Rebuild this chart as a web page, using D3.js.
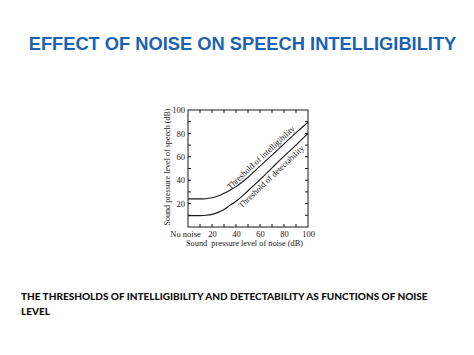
<!DOCTYPE html>
<html>
<head>
<meta charset="utf-8">
<script src="https://cdn.jsdelivr.net/npm/d3@7"></script>
<style>
  body { margin: 0; background: #fff; }
  svg { display: block; }
</style>
</head>
<body>
<svg id="chart" width="474" height="355"></svg>
<script>
// values (noise level in dB -> speech level in dB)
const noiseLevels = [0, 10, 15, 20, 25, 30, 35, 40, 50, 60, 70, 80, 90, 100];
const intelligibility = [24, 24, 24.2, 25, 26.5, 28.8, 31.5, 34.5, 42.5, 52, 61.5, 71, 80.5, 89.5];
const detectability = [9.7, 9.7, 10, 10.8, 12.5, 15, 18.5, 22, 31, 40.5, 50.5, 60.5, 70, 80];
const xTickValues = [0, 20, 40, 60, 80, 100];
const xTickLabels = ["No noise", "20", "40", "60", "80", "100"];
const yTickValues = [20, 40, 60, 80, 100];
const minorTicks = d3.range(0, 101, 10);

const title = "EFFECT OF NOISE ON SPEECH INTELLIGIBILITY";
const caption = ["THE THRESHOLDS OF INTELLIGIBILITY AND DETECTABILITY AS FUNCTIONS OF NOISE", "LEVEL"];

const svg = d3.select("#chart");
const serif = "'Liberation Serif', 'Times New Roman', serif";
const ink = "#1a1a1a";

// plot box
const x = d3.scaleLinear().domain([0, 100]).range([188, 308]);
const y = d3.scaleLinear().domain([0, 100]).range([227, 110]);

// title
svg.append("text")
    .attr("x", 242.5)
    .attr("y", 49.5)
    .attr("text-anchor", "middle")
    .attr("font-family", "'Liberation Sans', Arial, sans-serif")
    .attr("font-weight", "bold")
    .attr("font-size", 18.3)
    .attr("fill", "#1b63b1")
    .text(title);

// caption, sized to the width it has in the picture
const cap = svg.append("g")
    .attr("font-family", "Lato, 'Open Sans', sans-serif")
    .attr("font-weight", 900)
    .attr("fill", "#111");
const capLines = cap.selectAll("text")
    .data(caption)
    .enter()
    .append("text")
    .attr("x", 21)
    .attr("y", (d, i) => 300 + i * 14.5)
    .attr("font-size", 11)
    .text(d => d);
const w0 = capLines.node().getComputedTextLength();
capLines.attr("font-size", 11 * 407 / w0);

const plot = svg.append("g").attr("font-family", serif).attr("fill", ink);

// frame
plot.append("rect")
    .attr("x", x(0)).attr("y", y(100))
    .attr("width", x(100) - x(0)).attr("height", y(0) - y(100))
    .attr("fill", "none").attr("stroke", ink).attr("stroke-width", 1);

// inward minor ticks on all four sides
const tickLen = 3;
const inner = minorTicks.slice(1, -1);
const tickSides = [
    d => [x(d), y(0), x(d), y(0) - tickLen],
    d => [x(d), y(100), x(d), y(100) + tickLen],
    d => [x(0), y(d), x(0) + tickLen, y(d)],
    d => [x(100), y(d), x(100) - tickLen, y(d)]
];
tickSides.forEach(f => {
    plot.append("g").selectAll("line")
        .data(inner)
        .enter().append("line")
        .attr("x1", d => f(d)[0]).attr("y1", d => f(d)[1])
        .attr("x2", d => f(d)[2]).attr("y2", d => f(d)[3])
        .attr("stroke", ink);
});

// axes labels via d3 axes (tick lines hidden, the frame carries them)
const xAxis = plot.append("g")
    .attr("transform", `translate(0,${y(0)})`)
    .call(d3.axisBottom(x).tickValues(xTickValues)
        .tickFormat((d, i) => xTickLabels[i]).tickSize(0).tickPadding(4));
xAxis.select(".domain").remove();
xAxis.selectAll("text")
    .attr("font-family", serif).attr("font-size", 8.5).attr("fill", ink)
    .attr("dx", (d, i) => i === 0 ? -3 : 0);

const yAxis = plot.append("g")
    .attr("transform", `translate(${x(0)},0)`)
    .call(d3.axisLeft(y).tickValues(yTickValues).tickSize(0).tickPadding(3));
yAxis.select(".domain").remove();
yAxis.selectAll("text")
    .attr("font-family", serif).attr("font-size", 8.5).attr("fill", ink);

// axis titles
plot.append("text")
    .attr("x", 244.5).attr("y", 246)
    .attr("text-anchor", "middle").attr("font-size", 8.3)
    .attr("xml:space", "preserve")
    .text("Sound  pressure level of noise (dB)");
plot.append("text")
    .attr("transform", `translate(169.5,${167}) rotate(-90)`)
    .attr("text-anchor", "middle").attr("font-size", 8.1)
    .text("Sound pressure level of speech (dB)");

// threshold curves
const line = d3.line()
    .x(d => x(d[0]))
    .y(d => y(d[1]))
    .curve(d3.curveMonotoneX);

const series = [
    { name: "Threshold of intelligibility", values: intelligibility, labelAt: 64, dy: -3 },
    { name: "Threshold of detectability", values: detectability, labelAt: 66, dy: 8.5 }
];

series.forEach(s => {
    const pts = noiseLevels.map((n, i) => [n, s.values[i]]);
    plot.append("path")
        .datum(pts)
        .attr("d", line)
        .attr("fill", "none")
        .attr("stroke", ink)
        .attr("stroke-width", 1.1);

    // label follows the straight part of the curve
    const interp = v => d3.scaleLinear().domain(noiseLevels).range(s.values)(v);
    const px = x(s.labelAt), py = y(interp(s.labelAt));
    const ang = Math.atan2(y(interp(90)) - y(interp(50)), x(90) - x(50)) * 180 / Math.PI;
    plot.append("text")
        .attr("transform", `translate(${px},${py}) rotate(${ang})`)
        .attr("text-anchor", "middle")
        .attr("dy", s.dy)
        .attr("font-size", 8.4)
        .text(s.name);
});
</script>
</body>
</html>
